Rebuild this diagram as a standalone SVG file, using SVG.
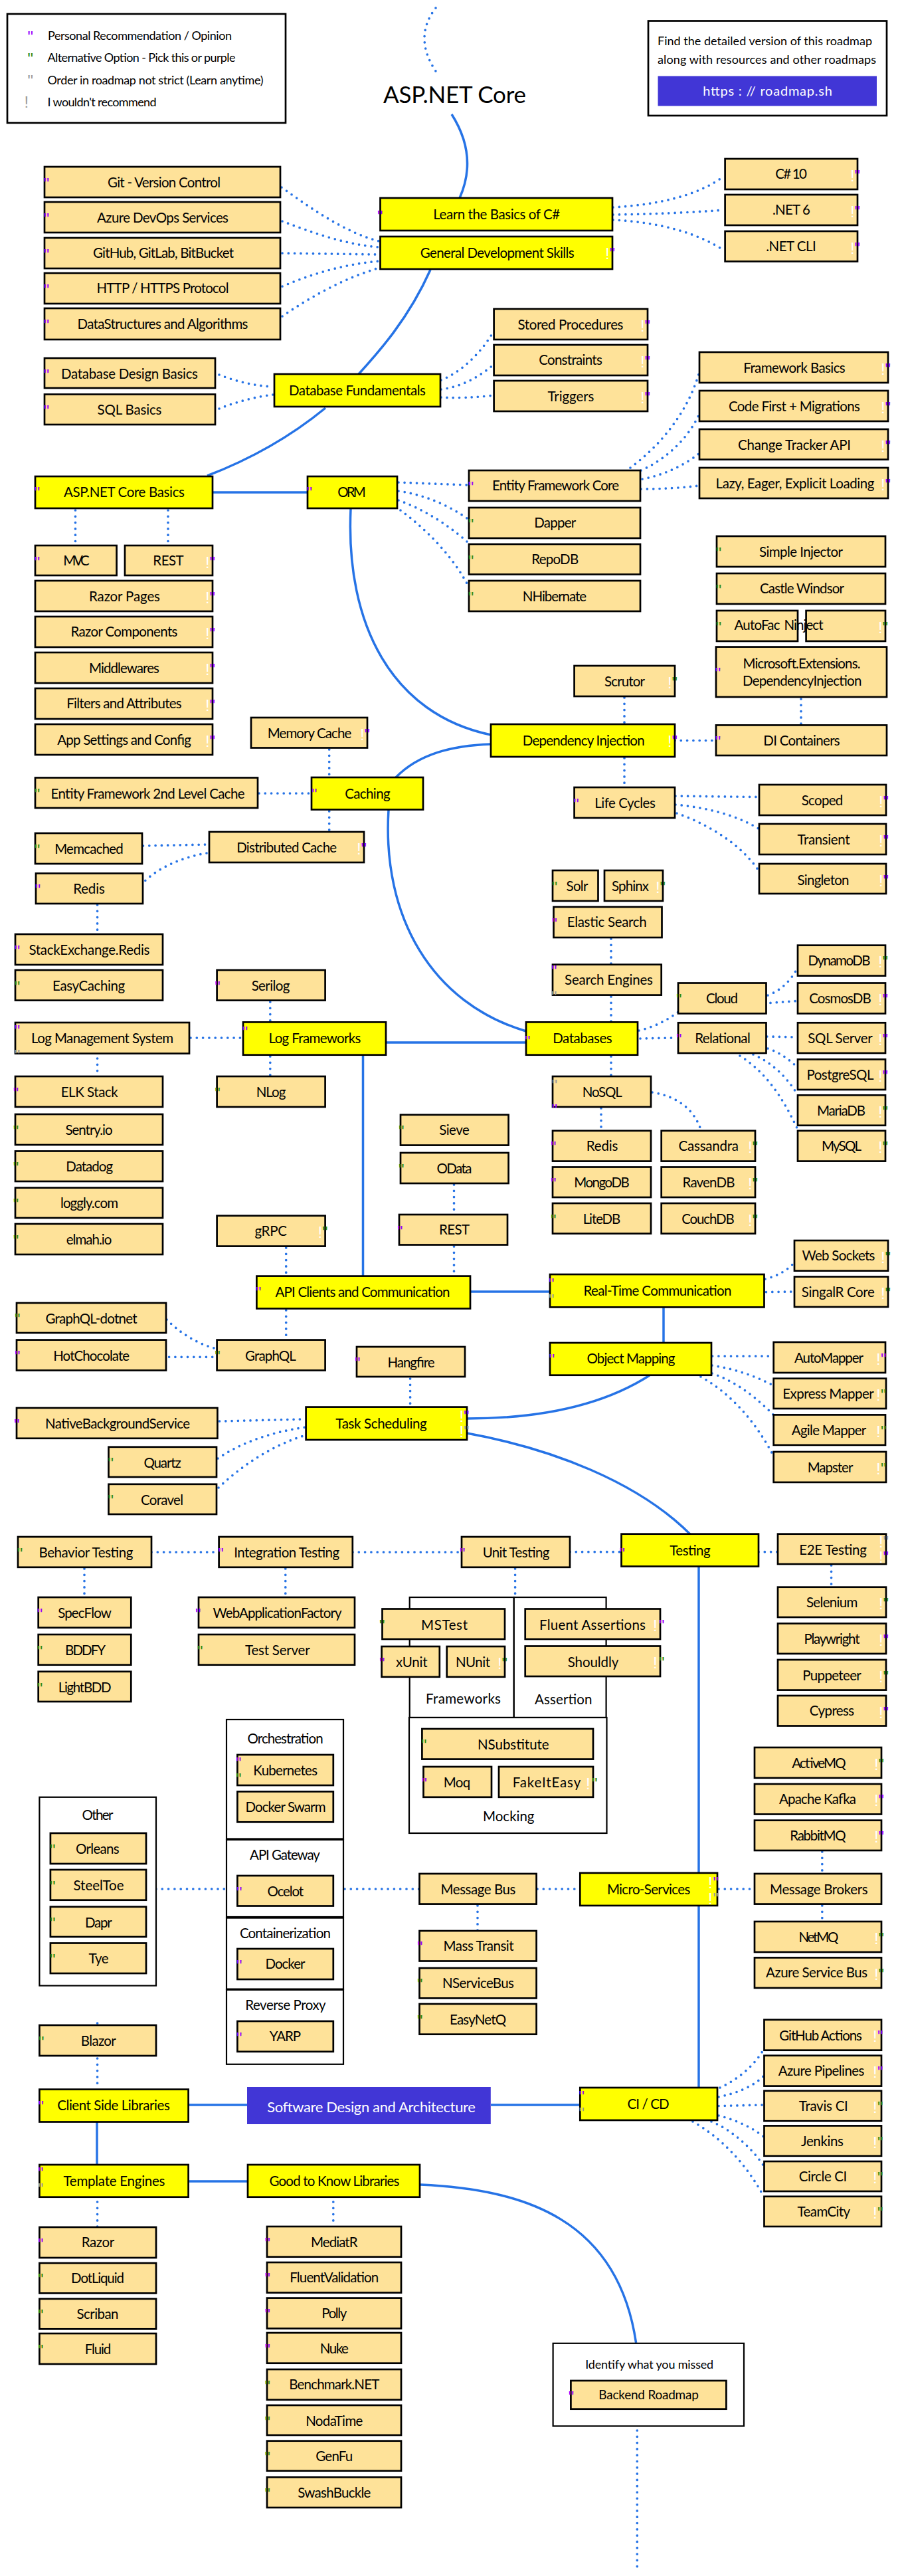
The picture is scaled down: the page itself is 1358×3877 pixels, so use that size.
<svg xmlns="http://www.w3.org/2000/svg" width="1358" height="3877" viewBox="0 0 1358 3877">
<style>
text{font-family:"Lato","Open Sans","Liberation Sans",sans-serif;fill:#000}
.t{font-size:20.500px;text-anchor:middle;dominant-baseline:central}
.l{font-size:18px;dominant-baseline:central}
.n{font-size:20px;text-anchor:middle;dominant-baseline:central;fill:#fff}
.b,.y,.c,.f{stroke:#000;stroke-width:2.700px}
.b{fill:#fee299}
.y{fill:#ff0}
.c{fill:#fff}
.f{fill:#fff;stroke-width:2.200px}
.u{fill:#4136d6}
.m{font-family:"Liberation Sans",sans-serif;font-size:24px}
.p{fill:#9900ff}.g{fill:#2f8a10}.a{fill:#9a9a9a}.w{fill:#fff}
.s path{fill:none;stroke:#2673e6;stroke-width:3.500px}
.d path{fill:none;stroke:#2673e6;stroke-width:3.700px;stroke-linecap:round;stroke-dasharray:0 9.300}
</style>
<rect width="1358" height="3877" fill="#fff"/>
<g id="connectors">
<g class="s">
<path d="M680 172Q720 235 692 298"/>
<path d="M648 406C615 480 570 530 540 563"/>
<path d="M490 614C440 655 380 690 312 716"/>
<path d="M320 741H463"/>
<path d="M528 766C520 940 590 1075 739 1106"/>
<path d="M739 1120C680 1122 630 1135 596 1170"/>
<path d="M585 1219C575 1380 650 1510 792 1552"/>
<path d="M581 1569H792"/>
<path d="M546.500 1588V1920"/>
<path d="M708 1944H828"/>
<path d="M999 1967V2021"/>
<path d="M978 2070C900 2120 800 2135 703 2135"/>
<path d="M703 2157C830 2180 960 2230 1039 2309"/>
<path d="M1052 2358V2819"/>
<path d="M1052 2868V3142"/>
<path d="M739 3168H873"/>
<path d="M284 3168H372"/>
<path d="M146 3193.500V3258"/>
<path d="M284 3283H373"/>
<path d="M633 3288C790 3295 930 3340 957.600 3526"/>
</g>
<g class="d">
<path d="M656 12Q622 56 656 107"/>
<path d="M424 282C470 315 520 350 571 363"/>
<path d="M425 333C470 350 520 368 571 372"/>
<path d="M425 381L571 383"/>
<path d="M425 431C470 412 520 397 571 393"/>
<path d="M425 476C470 445 520 418 571 403"/>
<path d="M923 312C990 308 1050 295 1090 265"/>
<path d="M923 323Q1010 322 1090 316"/>
<path d="M923 331C990 334 1050 350 1090 377"/>
<path d="M330 564C355 574 385 581 411 582"/>
<path d="M330 615C355 605 385 597 411 594"/>
<path d="M664 572C695 560 725 530 743 499"/>
<path d="M664 586C695 582 720 568 743 549"/>
<path d="M664 598Q700 600 743 595"/>
<path d="M600 726Q650 728 706 730"/>
<path d="M600 739C640 745 675 760 706 782"/>
<path d="M600 753C635 765 675 790 703 815"/>
<path d="M603 768C640 795 680 835 704 880"/>
<path d="M949 704C995 670 1035 620 1052 563"/>
<path d="M965 708C1005 690 1035 660 1052 625"/>
<path d="M967 721C1000 715 1030 700 1052 683"/>
<path d="M965 736Q1010 736 1052 731"/>
<path d="M113.500 768V821"/>
<path d="M253 768V821"/>
<path d="M1206 1052V1091"/>
<path d="M940 1050V1090"/>
<path d="M1016 1114.500H1078"/>
<path d="M940 1141V1185"/>
<path d="M1017 1198L1142 1199.500"/>
<path d="M1017 1211C1060 1215 1105 1225 1142 1247"/>
<path d="M1019 1224C1065 1240 1115 1270 1142 1310"/>
<path d="M495.700 1128V1170"/>
<path d="M390 1194H469"/>
<path d="M495.700 1221V1252"/>
<path d="M215.500 1273L311 1271"/>
<path d="M311 1284C275 1290 240 1305 218 1326"/>
<path d="M146.600 1362V1406"/>
<path d="M406.800 1508V1538"/>
<path d="M287 1562H366"/>
<path d="M146.600 1593V1620"/>
<path d="M406.800 1590V1620"/>
<path d="M430.700 1878V1920"/>
<path d="M430.700 1972V2016"/>
<path d="M251 1986C270 2005 295 2022 326 2030"/>
<path d="M254.600 2042.300H325"/>
<path d="M683.500 1783V1828"/>
<path d="M683.500 1876V1920"/>
<path d="M920 1413V1451"/>
<path d="M920 1500V1538"/>
<path d="M920 1590V1620"/>
<path d="M962 1551Q995 1543 1021 1523"/>
<path d="M964 1563L1013 1562"/>
<path d="M1156 1498Q1185 1487 1201 1456"/>
<path d="M1160 1509.400L1199 1506.500"/>
<path d="M1154.800 1560L1194.600 1560.800"/>
<path d="M1156 1578Q1180 1586 1201 1607"/>
<path d="M1134 1587Q1175 1605 1201 1648"/>
<path d="M1114 1589C1155 1615 1180 1655 1201 1700"/>
<path d="M905 1668V1701"/>
<path d="M982 1644C1020 1650 1045 1670 1055 1700"/>
<path d="M1152 1925Q1180 1918 1196 1900"/>
<path d="M1153.500 1944.600L1194.600 1944"/>
<path d="M617.600 2075V2117"/>
<path d="M1072.600 2041H1163.400"/>
<path d="M1072 2055C1105 2060 1135 2070 1164 2085"/>
<path d="M1072 2067C1110 2080 1140 2105 1164 2129"/>
<path d="M1055 2072C1105 2100 1140 2145 1164 2190"/>
<path d="M330.500 2139L454.500 2136"/>
<path d="M328 2195C365 2170 410 2155 460 2148"/>
<path d="M329 2239C365 2205 410 2175 460 2160"/>
<path d="M228 2336H330"/>
<path d="M531 2336H695"/>
<path d="M858 2335.700H935.500"/>
<path d="M1142 2335.700H1171"/>
<path d="M127 2361V2404"/>
<path d="M429.800 2361V2404"/>
<path d="M775.600 2361V2404"/>
<path d="M1251.600 2356V2388"/>
<path d="M235 2843H341"/>
<path d="M519 2843H631"/>
<path d="M809 2843H873"/>
<path d="M1082 2843H1136"/>
<path d="M719 2868V2906"/>
<path d="M1237.800 2787V2820"/>
<path d="M1237.800 2868V2892"/>
<path d="M1084 3142C1110 3130 1135 3110 1150 3084"/>
<path d="M1082 3156C1110 3150 1135 3140 1150 3124"/>
<path d="M1082 3169.500L1149 3168"/>
<path d="M1082 3184C1105 3190 1130 3200 1150 3216"/>
<path d="M1071 3193C1100 3205 1130 3230 1150 3260"/>
<path d="M1043 3193C1090 3220 1125 3260 1150 3306"/>
<path d="M146.600 3045V3046"/>
<path d="M146.600 3098V3144"/>
<path d="M146.600 3314V3352"/>
<path d="M501.800 3314V3351"/>
<path d="M959.300 3658V3866"/>
</g>
</g>

<g id="legend"><rect class="c" x="11" y="21" width="419" height="164"/>
<text class="m p" x="41.500" y="63.500">"</text><text class="l" x="72" y="53" textLength="277">Personal Recommendation / Opinion</text>
<text class="m g" x="41.500" y="96.500">"</text><text class="l" x="71.500" y="86" textLength="283">Alternative Option - Pick this or purple</text>
<text class="m a" x="41.500" y="129.500">"</text><text class="l" x="71.500" y="120" textLength="325">Order in roadmap not strict (Learn anytime)</text>
<text class="m a" x="36.600" y="161.500">!</text><text class="l" x="71.500" y="153" textLength="164">I wouldn't recommend</text></g>
<g id="title"><text class="t" style="font-size:35px" x="684.500" y="141" textLength="215">ASP.NET Core</text></g>
<g id="info"><rect class="c" x="976" y="31.500" width="359" height="142.500"/>
<text class="l" x="990" y="60.600" textLength="323">Find the detailed version of this roadmap</text>
<text class="l" x="990" y="89" textLength="329">along with resources and other roadmaps</text>
<rect class="u" x="990.500" y="114.500" width="329.500" height="45"/>
<text class="n" x="1155.600" y="135.500" textLength="194.600">https : // roadmap.sh</text></g>

<g id="containers">
<g id="box-frameworks"><rect class="f" x="616.700" y="2404" width="157" height="181"/><text class="t" x="697.500" y="2556" textLength="113">Frameworks</text></g>
<g id="box-assertion"><rect class="f" x="773.800" y="2404" width="138.800" height="181"/><text class="t" x="848.200" y="2557" textLength="86.500">Assertion</text></g>
<g id="box-mocking"><rect class="f" x="616" y="2585" width="297.500" height="174"/><text class="t" x="765.800" y="2733" textLength="77.400">Mocking</text></g>
<g id="box-orchestration"><rect class="f" x="341" y="2588" width="176" height="179.500"/><text class="t" x="429.600" y="2615.600" textLength="114">Orchestration</text></g>
<g id="box-gateway"><rect class="f" x="341" y="2769" width="176" height="116"/><text class="t" x="429" y="2791" textLength="105.800">API Gateway</text></g>
<g id="box-container"><rect class="f" x="341" y="2886.600" width="176" height="107"/><text class="t" x="429.400" y="2908.500" textLength="137">Containerization</text></g>
<g id="box-proxy"><rect class="f" x="341" y="2994.800" width="176" height="112"/><text class="t" x="430" y="3017" textLength="121.400">Reverse Proxy</text></g>
<g id="box-other"><rect class="f" x="59.400" y="2704.800" width="175.600" height="283.700"/><text class="t" x="147" y="2730.500" textLength="47">Other</text></g>
<g id="box-missed"><rect class="f" x="832.600" y="3526.800" width="287.400" height="124.600"/><text class="t" style="font-size:18px" x="977.700" y="3558.400" textLength="193">Identify what you missed</text></g>
</g>

<g id="nodes">
<g id="git"><rect class="b" x="67" y="251" width="355" height="46"/><text class="t" x="247" y="274" textLength="170">Git - Version Control</text><text class="m p" x="65.700" y="284.500">"</text></g>
<g id="azure-devops"><rect class="b" x="67" y="304" width="355" height="46"/><text class="t" x="245" y="327" textLength="198">Azure DevOps Services</text><text class="m p" x="65.700" y="337.500">"</text></g>
<g id="github"><rect class="b" x="67" y="358" width="355" height="46"/><text class="t" x="246" y="380" textLength="212">GitHub, GitLab, BitBucket</text><text class="m p" x="65.700" y="391.500">"</text></g>
<g id="http"><rect class="b" x="67" y="411" width="355" height="46"/><text class="t" x="245" y="433" textLength="199">HTTP / HTTPS Protocol</text><text class="m p" x="65.700" y="444.500">"</text></g>
<g id="ds"><rect class="b" x="67" y="464" width="355" height="47"/><text class="t" x="245" y="487" textLength="257">DataStructures and Algorithms</text><text class="m p" x="65.700" y="497.500">"</text></g>
<g id="db-design"><rect class="b" x="67" y="539" width="257" height="45"/><text class="t" x="195" y="561.500" textLength="206">Database Design Basics</text><text class="m p" x="65.700" y="572.500">"</text></g>
<g id="sql-basics"><rect class="b" x="67" y="593.500" width="257" height="45.500"/><text class="t" x="195" y="616" textLength="97">SQL Basics</text><text class="m p" x="65.700" y="627">"</text></g>
<g id="db-fund"><rect class="y" x="413" y="563" width="250" height="49"/><text class="t" x="538" y="587" textLength="206">Database Fundamentals</text></g>
<g id="learn"><rect class="y" x="572.500" y="298" width="349.500" height="49"/><text class="t" x="747.700" y="322" textLength="191">Learn the Basics of C#</text><text class="m p" x="568" y="333.500">"</text></g>
<g id="general"><rect class="y" x="572.500" y="356" width="349.500" height="49"/><text class="t" x="748.700" y="380" textLength="232">General Development Skills</text><text class="m w" x="911" y="389.500">!</text><text class="m p" x="917.500" y="389.500">"</text></g>
<g id="csharp"><rect class="b" x="1091.600" y="239" width="199.400" height="46"/><text class="t" x="1191" y="261" textLength="47.600">C# 10</text><text class="m w" x="1280" y="272.500">!</text><text class="m p" x="1286.500" y="272.500">"</text></g>
<g id="net6"><rect class="b" x="1091.600" y="293" width="199.400" height="46"/><text class="t" x="1191.500" y="315" textLength="57">.NET 6</text><text class="m w" x="1280" y="326.500">!</text><text class="m p" x="1286.500" y="326.500">"</text></g>
<g id="netcli"><rect class="b" x="1091.600" y="348" width="199.400" height="45.500"/><text class="t" x="1191" y="370" textLength="75.700">.NET CLI</text><text class="m w" x="1280" y="381.500">!</text><text class="m p" x="1286.500" y="381.500">"</text></g>
<g id="stored"><rect class="b" x="743.600" y="465" width="231.400" height="46"/><text class="t" x="859" y="488" textLength="159">Stored Procedures</text><text class="m w" x="964" y="498.500">!</text><text class="m p" x="970.500" y="498.500">"</text></g>
<g id="constraints"><rect class="b" x="743.600" y="519" width="231.400" height="46"/><text class="t" x="859" y="541" textLength="95.600">Constraints</text><text class="m w" x="964" y="552.500">!</text><text class="m p" x="970.500" y="552.500">"</text></g>
<g id="triggers"><rect class="b" x="743.600" y="573" width="231.400" height="46"/><text class="t" x="859.500" y="595.600" textLength="70">Triggers</text><text class="m w" x="964" y="606.500">!</text><text class="m p" x="970.500" y="606.500">"</text></g>
<g id="ef-basics"><rect class="b" x="1053" y="530" width="284" height="46"/><text class="t" x="1196" y="552.600" textLength="153.500">Framework Basics</text><text class="m w" x="1326" y="563.500">!</text><text class="m p" x="1332.500" y="563.500">"</text></g>
<g id="code-first"><rect class="b" x="1053" y="588" width="284" height="46"/><text class="t" x="1196" y="611" textLength="198">Code First + Migrations</text><text class="m w" x="1326" y="621.500">!</text><text class="m p" x="1332.500" y="621.500">"</text></g>
<g id="change-tracker"><rect class="b" x="1053" y="646" width="284" height="45.600"/><text class="t" x="1196" y="669" textLength="170">Change Tracker API</text><text class="m w" x="1326" y="679.500">!</text><text class="m p" x="1332.500" y="679.500">"</text></g>
<g id="lazy"><rect class="b" x="1053" y="704" width="284" height="46"/><text class="t" x="1197" y="726.500" textLength="239">Lazy, Eager, Explicit Loading</text><text class="m w" x="1326" y="737.500">!</text><text class="m p" x="1332.500" y="737.500">"</text></g>
<g id="aspnet-basics"><rect class="y" x="53" y="717" width="267" height="48"/><text class="t" x="187" y="740" textLength="182">ASP.NET Core Basics</text><text class="m p" x="51.700" y="749.500">"</text></g>
<g id="orm"><rect class="y" x="463" y="717" width="135" height="48"/><text class="t" x="529.500" y="740" textLength="42.500">ORM</text><text class="m p" x="461.700" y="749.500">"</text></g>
<g id="mvc"><rect class="b" x="53" y="821" width="122.600" height="45"/><text class="t" x="115" y="843" textLength="39.500">MVC</text><text class="m p" x="51.700" y="854.500">"</text></g>
<g id="rest"><rect class="b" x="188" y="821" width="132" height="45"/><text class="t" x="253.500" y="843" textLength="46.400">REST</text><text class="m w" x="309" y="854.500">!</text><text class="m p" x="315.500" y="854.500">"</text></g>
<g id="razor-pages"><rect class="b" x="53" y="874" width="267" height="46"/><text class="t" x="187.500" y="897" textLength="107">Razor Pages</text><text class="m w" x="309" y="907.500">!</text><text class="m p" x="315.500" y="907.500">"</text></g>
<g id="razor-components"><rect class="b" x="53" y="928" width="267" height="46"/><text class="t" x="187" y="950" textLength="161">Razor Components</text><text class="m w" x="309" y="961.500">!</text><text class="m p" x="315.500" y="961.500">"</text></g>
<g id="middlewares"><rect class="b" x="53" y="982" width="267" height="46"/><text class="t" x="187" y="1005" textLength="106">Middlewares</text><text class="m w" x="309" y="1015.500">!</text><text class="m p" x="315.500" y="1015.500">"</text></g>
<g id="filters"><rect class="b" x="53" y="1036" width="267" height="46"/><text class="t" x="187" y="1058" textLength="173.500">Filters and Attributes</text><text class="m w" x="309" y="1069.500">!</text><text class="m p" x="315.500" y="1069.500">"</text></g>
<g id="app-settings"><rect class="b" x="53" y="1090" width="267" height="46"/><text class="t" x="187" y="1113" textLength="201.700">App Settings and Config</text><text class="m w" x="309" y="1123.500">!</text><text class="m p" x="315.500" y="1123.500">"</text></g>
<g id="memory-cache"><rect class="b" x="378" y="1080" width="175" height="45.500"/><text class="t" x="466" y="1103" textLength="126.600">Memory Cache</text><text class="m w" x="542" y="1113.500">!</text><text class="m p" x="548.500" y="1113.500">"</text></g>
<g id="caching"><rect class="y" x="469" y="1170" width="168" height="48.500"/><text class="t" x="553.400" y="1194" textLength="68.500">Caching</text><text class="m p" x="469" y="1203.500">"</text></g>
<g id="ef-cache"><rect class="b" x="53" y="1170.500" width="335" height="45.500"/><text class="t" x="222.500" y="1194" textLength="292">Entity Framework 2nd Level Cache</text><text class="m g" x="51.700" y="1204">"</text></g>
<g id="memcached"><rect class="b" x="53" y="1254" width="161" height="46"/><text class="t" x="134" y="1277" textLength="103.600">Memcached</text><text class="m g" x="51.700" y="1287.500">"</text></g>
<g id="distributed"><rect class="b" x="315" y="1252" width="233" height="46"/><text class="t" x="431.700" y="1275" textLength="151">Distributed Cache</text><text class="m w" x="537" y="1285.500">!</text><text class="m p" x="543.500" y="1285.500">"</text></g>
<g id="redis-cache"><rect class="b" x="54" y="1314.500" width="161" height="45.500"/><text class="t" x="134" y="1337" textLength="47.700">Redis</text><text class="m p" x="52.700" y="1348">"</text></g>
<g id="ef-core"><rect class="b" x="706" y="708" width="258" height="46"/><text class="t" x="836.500" y="730" textLength="191">Entity Framework Core</text><text class="m p" x="704.700" y="741.500">"</text></g>
<g id="dapper"><rect class="b" x="706" y="764" width="258" height="46"/><text class="t" x="835.700" y="786" textLength="63">Dapper</text><text class="m g" x="704.700" y="797.500">"</text></g>
<g id="repodb"><rect class="b" x="706" y="819" width="258" height="45.500"/><text class="t" x="835.700" y="841" textLength="71">RepoDB</text><text class="m g" x="704.700" y="852.500">"</text></g>
<g id="nhibernate"><rect class="b" x="706" y="874" width="258" height="46"/><text class="t" x="835" y="897" textLength="96.400">NHibernate</text><text class="m g" x="704.700" y="907.500">"</text></g>
<g id="simple-injector"><rect class="b" x="1079" y="807" width="254" height="46"/><text class="t" x="1206" y="830" textLength="126">Simple Injector</text><text class="m g" x="1077.700" y="840.500">"</text></g>
<g id="castle"><rect class="b" x="1079" y="863" width="254" height="46"/><text class="t" x="1207.500" y="885" textLength="127">Castle Windsor</text><text class="m g" x="1077.700" y="896.500">"</text></g>
<g id="autofac"><rect class="b" x="1079" y="919" width="122" height="46"/><text class="t" x="1140" y="940" textLength="69">AutoFac</text><text class="m g" x="1077.700" y="952.500">"</text></g>
<g id="ninject"><rect class="b" x="1213.600" y="919" width="119.400" height="46"/><text class="t" x="1210" y="940" textLength="59">Ninject</text><text class="m w" x="1322" y="952.500">!</text><text class="m g" x="1328.500" y="952.500">"</text></g>
<g id="ms-di"><rect class="b" x="1078" y="973.600" width="257" height="75.400"/><text class="t" x="1207" y="997.600" textLength="177">Microsoft.Extensions.</text><text class="t" x="1207.700" y="1024" textLength="179.400">DependencyInjection</text><text class="m p" x="1076.700" y="1021.500">"</text></g>
<g id="scrutor"><rect class="b" x="864.600" y="1002" width="151.400" height="46"/><text class="t" x="940.500" y="1025" textLength="61">Scrutor</text><text class="m w" x="1005" y="1035.500">!</text><text class="m g" x="1011.500" y="1035.500">"</text></g>
<g id="dep-inj"><rect class="y" x="739" y="1090" width="277" height="49"/><text class="t" x="878.700" y="1114" textLength="184">Dependency Injection</text><text class="m w" x="1005" y="1123.500">!</text><text class="m p" x="1011.500" y="1123.500">"</text></g>
<g id="di-containers"><rect class="b" x="1078" y="1091.400" width="257" height="45.600"/><text class="t" x="1207" y="1114" textLength="115.500">DI Containers</text><text class="m p" x="1076.700" y="1124.500">"</text></g>
<g id="life-cycles"><rect class="b" x="864.600" y="1185" width="151.400" height="46"/><text class="t" x="941" y="1208.400" textLength="91.700">Life Cycles</text><text class="m p" x="863.300" y="1218.500">"</text></g>
<g id="scoped"><rect class="b" x="1143" y="1181" width="191" height="46"/><text class="t" x="1238" y="1204" textLength="62.700">Scoped</text><text class="m w" x="1323" y="1214.500">!</text><text class="m p" x="1329.500" y="1214.500">"</text></g>
<g id="transient"><rect class="b" x="1143" y="1240" width="191" height="46"/><text class="t" x="1240" y="1263" textLength="79">Transient</text><text class="m w" x="1323" y="1273.500">!</text><text class="m p" x="1329.500" y="1273.500">"</text></g>
<g id="singleton"><rect class="b" x="1143" y="1300" width="191" height="45"/><text class="t" x="1239.500" y="1324" textLength="78">Singleton</text><text class="m w" x="1323" y="1333.500">!</text><text class="m p" x="1329.500" y="1333.500">"</text></g>
<g id="stackexchange"><rect class="b" x="23" y="1406" width="222" height="46"/><text class="t" x="134.400" y="1429" textLength="182">StackExchange.Redis</text><text class="m p" x="21.700" y="1439.500">"</text></g>
<g id="easycaching"><rect class="b" x="23" y="1460" width="222" height="45.600"/><text class="t" x="133.600" y="1483" textLength="109">EasyCaching</text><text class="m g" x="21.700" y="1493.500">"</text></g>
<g id="serilog"><rect class="b" x="326.600" y="1460" width="163" height="45.600"/><text class="t" x="407.500" y="1483" textLength="57.700">Serilog</text><text class="m p" x="323.300" y="1493.500">"</text></g>
<g id="log-mgmt"><rect class="b" x="23" y="1539" width="262" height="46.600"/><text class="t" x="154" y="1562.400" textLength="214">Log Management System</text><text class="m p" x="21.700" y="1560">"</text><text class="m a" x="21.700" y="1597">"</text></g>
<g id="log-fw"><rect class="y" x="366" y="1538.400" width="215" height="49.300"/><text class="t" x="474" y="1562.400" textLength="139">Log Frameworks</text><text class="m p" x="364.700" y="1562">"</text></g>
<g id="elk"><rect class="b" x="23" y="1620" width="222" height="46"/><text class="t" x="134.700" y="1643" textLength="86">ELK Stack</text><text class="m p" x="19.700" y="1653.500">"</text></g>
<g id="nlog"><rect class="b" x="326.600" y="1620" width="163" height="46"/><text class="t" x="408" y="1643" textLength="44.700">NLog</text><text class="m g" x="323.300" y="1653.500">"</text></g>
<g id="sentry"><rect class="b" x="23" y="1677" width="222" height="46"/><text class="t" x="134" y="1700" textLength="71">Sentry.io</text><text class="m g" x="19.700" y="1710.500">"</text></g>
<g id="datadog"><rect class="b" x="23" y="1732.500" width="222" height="45.500"/><text class="t" x="134.700" y="1755" textLength="70.700">Datadog</text><text class="m g" x="19.700" y="1766">"</text></g>
<g id="loggly"><rect class="b" x="23" y="1787.600" width="222" height="45.400"/><text class="t" x="134.500" y="1810" textLength="87">loggly.com</text><text class="m g" x="19.700" y="1821">"</text></g>
<g id="elmah"><rect class="b" x="23" y="1842" width="222" height="46"/><text class="t" x="134" y="1864.600" textLength="68.500">elmah.io</text><text class="m g" x="19.700" y="1875.500">"</text></g>
<g id="grpc"><rect class="b" x="326.600" y="1829.700" width="163" height="45.900"/><text class="t" x="407.700" y="1852" textLength="48.600">gRPC</text><text class="m w" x="478.500" y="1863">!</text><text class="m g" x="485" y="1863">"</text></g>
<g id="api-clients"><rect class="y" x="386.400" y="1920.600" width="321.600" height="48.900"/><text class="t" x="546" y="1944" textLength="263">API Clients and Communication</text><text class="m p" x="385.100" y="1954">"</text></g>
<g id="sieve"><rect class="b" x="603" y="1677.800" width="162.600" height="45.800"/><text class="t" x="684" y="1700" textLength="45.600">Sieve</text><text class="m g" x="600" y="1711">"</text></g>
<g id="odata"><rect class="b" x="603" y="1735" width="162.600" height="46"/><text class="t" x="684" y="1757.700" textLength="53">OData</text><text class="m g" x="600" y="1768.500">"</text></g>
<g id="rest2"><rect class="b" x="601" y="1828" width="163" height="45.500"/><text class="t" x="684" y="1850" textLength="46">REST</text><text class="m p" x="598" y="1861.500">"</text></g>
<g id="solr"><rect class="b" x="832" y="1310" width="68.500" height="46"/><text class="t" x="869" y="1332.600" textLength="33">Solr</text><text class="m g" x="830.700" y="1343.500">"</text></g>
<g id="sphinx"><rect class="b" x="910" y="1310" width="88" height="46"/><text class="t" x="949" y="1332.600" textLength="56">Sphinx</text><text class="m w" x="987" y="1343.500">!</text><text class="m g" x="993.500" y="1343.500">"</text></g>
<g id="elastic"><rect class="b" x="833.500" y="1365" width="163" height="46"/><text class="t" x="913.700" y="1387.300" textLength="120">Elastic Search</text><text class="m p" x="830.500" y="1398.500">"</text></g>
<g id="search"><rect class="b" x="832" y="1451.700" width="163.700" height="45.900"/><text class="t" x="916.500" y="1474" textLength="133">Search Engines</text><text class="m p" x="830" y="1470">"</text><text class="m a" x="830" y="1509">"</text></g>
<g id="databases"><rect class="y" x="792" y="1538.400" width="168" height="49.300"/><text class="t" x="877" y="1562.400" textLength="89.500">Databases</text><text class="m p" x="790" y="1576">"</text></g>
<g id="cloud"><rect class="b" x="1021" y="1479.500" width="132.500" height="45.900"/><text class="t" x="1087" y="1502" textLength="48">Cloud</text><text class="m g" x="1018" y="1513">"</text></g>
<g id="relational"><rect class="b" x="1021" y="1539.300" width="132.500" height="45.700"/><text class="t" x="1088" y="1562.400" textLength="83.500">Relational</text><text class="m p" x="1018" y="1573">"</text></g>
<g id="dynamodb"><rect class="b" x="1201" y="1422.700" width="132" height="45.900"/><text class="t" x="1263.500" y="1445.400" textLength="94">DynamoDB</text><text class="m w" x="1322" y="1456">!</text><text class="m g" x="1328.500" y="1456">"</text></g>
<g id="cosmosdb"><rect class="b" x="1201" y="1479.500" width="132" height="45.900"/><text class="t" x="1265" y="1502" textLength="93.400">CosmosDB</text><text class="m w" x="1322" y="1513">!</text><text class="m p" x="1328.500" y="1513">"</text></g>
<g id="sql-server"><rect class="b" x="1201" y="1539.300" width="132" height="45.700"/><text class="t" x="1265" y="1562.400" textLength="97.300">SQL Server</text><text class="m w" x="1322" y="1573">!</text><text class="m p" x="1328.500" y="1573">"</text></g>
<g id="postgresql"><rect class="b" x="1201" y="1594.400" width="132" height="45.600"/><text class="t" x="1265" y="1616.700" textLength="101">PostgreSQL</text><text class="m w" x="1322" y="1628">!</text><text class="m p" x="1328.500" y="1628">"</text></g>
<g id="mariadb"><rect class="b" x="1201" y="1648.300" width="132" height="45.500"/><text class="t" x="1266.500" y="1670.600" textLength="73">MariaDB</text><text class="m w" x="1322" y="1682">!</text><text class="m g" x="1328.500" y="1682">"</text></g>
<g id="mysql"><rect class="b" x="1201" y="1701.800" width="132" height="45.800"/><text class="t" x="1267" y="1724" textLength="60">MySQL</text><text class="m w" x="1322" y="1735">!</text><text class="m g" x="1328.500" y="1735">"</text></g>
<g id="nosql"><rect class="b" x="832" y="1620" width="148" height="46"/><text class="t" x="906.800" y="1643" textLength="60">NoSQL</text><text class="m a" x="830.700" y="1641.500">"</text><text class="m p" x="830.700" y="1678.500">"</text></g>
<g id="redis-db"><rect class="b" x="832" y="1701.800" width="148" height="45.800"/><text class="t" x="906.600" y="1724" textLength="47.600">Redis</text><text class="m p" x="829" y="1735">"</text></g>
<g id="cassandra"><rect class="b" x="995.700" y="1701.800" width="141.300" height="45.800"/><text class="t" x="1066.800" y="1724" textLength="90.400">Cassandra</text><text class="m w" x="1126" y="1735">!</text><text class="m g" x="1132.500" y="1735">"</text></g>
<g id="mongodb"><rect class="b" x="832" y="1756.500" width="148" height="45.500"/><text class="t" x="906" y="1779" textLength="83.500">MongoDB</text><text class="m p" x="829" y="1790">"</text></g>
<g id="ravendb"><rect class="b" x="995.700" y="1756.500" width="141.300" height="45.500"/><text class="t" x="1067" y="1779" textLength="79">RavenDB</text><text class="m w" x="1126" y="1790">!</text><text class="m g" x="1132.500" y="1790">"</text></g>
<g id="litedb"><rect class="b" x="832" y="1811" width="148" height="45.600"/><text class="t" x="906" y="1833.500" textLength="56.600">LiteDB</text><text class="m g" x="829" y="1844.500">"</text></g>
<g id="couchdb"><rect class="b" x="995.700" y="1811" width="141.300" height="45.600"/><text class="t" x="1066" y="1833.500" textLength="79.600">CouchDB</text><text class="m w" x="1126" y="1844.500">!</text><text class="m g" x="1132.500" y="1844.500">"</text></g>
<g id="websockets"><rect class="b" x="1196" y="1867" width="141" height="45.600"/><text class="t" x="1262.500" y="1889" textLength="110">Web Sockets</text><text class="m w" x="1326" y="1900.500">!</text><text class="m g" x="1332.500" y="1900.500">"</text></g>
<g id="signalr"><rect class="b" x="1196" y="1921.500" width="141" height="45.500"/><text class="t" x="1261.800" y="1944" textLength="110">SingalR Core</text><text class="m w" x="1326" y="1955">!</text><text class="m g" x="1332.500" y="1955">"</text></g>
<g id="realtime"><rect class="y" x="828" y="1918" width="322.500" height="49.400"/><text class="t" x="990" y="1942" textLength="223">Real-Time Communication</text><text class="m p" x="826" y="1940.500">"</text><text class="m a" x="826" y="1964.500">"</text></g>
<g id="graphql-dotnet"><rect class="b" x="25" y="1961" width="225" height="45"/><text class="t" x="137.500" y="1984" textLength="138">GraphQL-dotnet</text><text class="m g" x="22" y="1994">"</text></g>
<g id="hotchocolate"><rect class="b" x="25" y="2016.600" width="225" height="45.900"/><text class="t" x="137.700" y="2039.800" textLength="115">HotChocolate</text><text class="m p" x="22" y="2050">"</text></g>
<g id="graphql"><rect class="b" x="326.600" y="2016.600" width="163" height="45.900"/><text class="t" x="407.500" y="2039.800" textLength="76.800">GraphQL</text><text class="m g" x="323.300" y="2050">"</text></g>
<g id="hangfire"><rect class="b" x="537" y="2027" width="163" height="45"/><text class="t" x="619" y="2050" textLength="71">Hangfire</text><text class="m p" x="534" y="2060">"</text></g>
<g id="task"><rect class="y" x="460.600" y="2117.600" width="242.400" height="49.400"/><text class="t" x="574" y="2142" textLength="137.500">Task Scheduling</text><text class="m w" x="691.500" y="2139.500">!</text><text class="m p" x="698" y="2139.500">"</text><text class="m w" x="691.500" y="2162.500">!</text><text class="m a" x="698" y="2162.500">"</text></g>
<g id="native-bg"><rect class="b" x="25" y="2119" width="302.400" height="45.800"/><text class="t" x="177" y="2141.600" textLength="218">NativeBackgroundService</text><text class="m p" x="21" y="2152.500">"</text></g>
<g id="quartz"><rect class="b" x="163.500" y="2177.800" width="162.500" height="45.200"/><text class="t" x="244.600" y="2200.600" textLength="56.400">Quartz</text><text class="m g" x="162.500" y="2211">"</text></g>
<g id="coravel"><rect class="b" x="163.500" y="2233.800" width="162.500" height="45.200"/><text class="t" x="244" y="2256.500" textLength="64">Coravel</text><text class="m g" x="162.500" y="2267">"</text></g>
<g id="behavior"><rect class="b" x="27" y="2313" width="201" height="45.800"/><text class="t" x="129.500" y="2335.700" textLength="141.800">Behavior Testing</text><text class="m g" x="25.700" y="2346.500">"</text></g>
<g id="integration"><rect class="b" x="329.600" y="2313" width="201.200" height="45.800"/><text class="t" x="431.700" y="2335.700" textLength="159">Integration Testing</text><text class="m p" x="328.300" y="2346.500">"</text></g>
<g id="specflow"><rect class="b" x="57.700" y="2404" width="139.600" height="45.700"/><text class="t" x="127.500" y="2427" textLength="80.700">SpecFlow</text><text class="m p" x="55.700" y="2437.500">"</text></g>
<g id="bddfy"><rect class="b" x="57.700" y="2460" width="139.600" height="45.700"/><text class="t" x="128.600" y="2482.500" textLength="61">BDDFY</text><text class="m g" x="55.700" y="2493.500">"</text></g>
<g id="lightbdd"><rect class="b" x="57.700" y="2515.800" width="139.600" height="45.200"/><text class="t" x="127.700" y="2538.500" textLength="80">LightBDD</text><text class="m g" x="55.700" y="2549.500">"</text></g>
<g id="webapp"><rect class="b" x="299" y="2404" width="235" height="45.700"/><text class="t" x="417.600" y="2427" textLength="194">WebApplicationFactory</text><text class="m p" x="294" y="2437.500">"</text></g>
<g id="test-server"><rect class="b" x="299" y="2460" width="235" height="45.700"/><text class="t" x="417.800" y="2482.500" textLength="97.600">Test Server</text><text class="m g" x="297" y="2493.500">"</text></g>
<g id="mstest"><rect class="b" x="575.500" y="2421.500" width="184.500" height="45.500"/><text class="t" x="669" y="2445" textLength="70">MSTest</text><text class="m g" x="571" y="2455">"</text></g>
<g id="xunit"><rect class="b" x="574.600" y="2478" width="87.200" height="45.800"/><text class="t" x="619.800" y="2501" textLength="47.700">xUnit</text><text class="m p" x="571" y="2511.500">"</text></g>
<g id="nunit"><rect class="b" x="672.700" y="2478" width="87.300" height="45.800"/><text class="t" x="712" y="2501" textLength="52">NUnit</text><text class="m w" x="749" y="2511.500">!</text><text class="m g" x="755.500" y="2511.500">"</text></g>
<g id="fluent"><rect class="b" x="790.700" y="2421.500" width="203.300" height="45.500"/><text class="t" x="892" y="2445" textLength="160">Fluent Assertions</text><text class="m w" x="983" y="2455">!</text><text class="m p" x="992" y="2455">"</text></g>
<g id="shouldly"><rect class="b" x="790.700" y="2477.500" width="203.300" height="45.500"/><text class="t" x="893" y="2500.700" textLength="76.500">Shouldly</text><text class="m w" x="983" y="2511">!</text><text class="m g" x="992" y="2511">"</text></g>
<g id="nsubstitute"><rect class="b" x="635.400" y="2602" width="257.600" height="45.600"/><text class="t" x="772.800" y="2624.800" textLength="107.700">NSubstitute</text><text class="m g" x="634" y="2634.500">"</text></g>
<g id="moq"><rect class="b" x="637.500" y="2659" width="102.500" height="45.800"/><text class="t" x="688" y="2682" textLength="40.500">Moq</text><text class="m p" x="634.500" y="2692.500">"</text></g>
<g id="fakeiteasy"><rect class="b" x="751" y="2659" width="142" height="45.800"/><text class="t" x="823" y="2682" textLength="102.500">FakeItEasy</text><text class="m w" x="882" y="2692.500">!</text><text class="m g" x="891" y="2692.500">"</text></g>
<g id="object-mapping"><rect class="y" x="828" y="2021" width="243" height="48.700"/><text class="t" x="950" y="2044.400" textLength="133">Object Mapping</text><text class="m p" x="826.700" y="2054.500">"</text></g>
<g id="automapper"><rect class="b" x="1164.700" y="2020" width="168.300" height="46"/><text class="t" x="1248" y="2042.700" textLength="103.800">AutoMapper</text><text class="m w" x="1319" y="2053.500">!</text><text class="m p" x="1326" y="2053.500">"</text></g>
<g id="express"><rect class="b" x="1164.700" y="2074.700" width="169.300" height="45.300"/><text class="t" x="1247" y="2097" textLength="137.500">Express Mapper</text><text class="m w" x="1319" y="2108">!</text><text class="m g" x="1326" y="2108">"</text></g>
<g id="agile"><rect class="b" x="1164.700" y="2129.400" width="168.300" height="45.500"/><text class="t" x="1248" y="2151.700" textLength="112.400">Agile Mapper</text><text class="m w" x="1319" y="2163">!</text><text class="m g" x="1326" y="2163">"</text></g>
<g id="mapster"><rect class="b" x="1164.700" y="2185" width="169.300" height="45.900"/><text class="t" x="1250" y="2207.700" textLength="68.700">Mapster</text><text class="m w" x="1319" y="2218.500">!</text><text class="m g" x="1326" y="2218.500">"</text></g>
<g id="unit"><rect class="b" x="695" y="2313" width="163" height="45.800"/><text class="t" x="777" y="2335.700" textLength="100.700">Unit Testing</text><text class="m p" x="692" y="2346.500">"</text></g>
<g id="testing"><rect class="y" x="935.500" y="2308.700" width="206.500" height="48.800"/><text class="t" x="1039" y="2332.700" textLength="61.400">Testing</text><text class="m p" x="932.500" y="2346.500">"</text></g>
<g id="e2e"><rect class="b" x="1171" y="2308.700" width="163" height="45.300"/><text class="t" x="1254" y="2332" textLength="101.600">E2E Testing</text><text class="m w" x="1323" y="2328.500">!</text><text class="m a" x="1329.500" y="2328.500">"</text><text class="m w" x="1323" y="2351.500">!</text><text class="m p" x="1329.500" y="2351.500">"</text></g>
<g id="selenium"><rect class="b" x="1171" y="2388.700" width="163" height="45.300"/><text class="t" x="1252.700" y="2411.400" textLength="77.400">Selenium</text><text class="m w" x="1323" y="2422">!</text><text class="m g" x="1329.500" y="2422">"</text></g>
<g id="playwright"><rect class="b" x="1171" y="2443.400" width="163" height="45.500"/><text class="t" x="1252.500" y="2466" textLength="84">Playwright</text><text class="m w" x="1323" y="2477">!</text><text class="m p" x="1329.500" y="2477">"</text></g>
<g id="puppeteer"><rect class="b" x="1171" y="2498" width="163" height="45.600"/><text class="t" x="1252.500" y="2520.900" textLength="88.600">Puppeteer</text><text class="m w" x="1323" y="2531.500">!</text><text class="m g" x="1329.500" y="2531.500">"</text></g>
<g id="cypress"><rect class="b" x="1171" y="2552" width="163" height="45.500"/><text class="t" x="1252.500" y="2574.300" textLength="67.500">Cypress</text><text class="m w" x="1323" y="2585.500">!</text><text class="m p" x="1329.500" y="2585.500">"</text></g>
<g id="kubernetes"><rect class="b" x="357.400" y="2641" width="144.400" height="46"/><text class="t" x="429.700" y="2663.600" textLength="96.700">Kubernetes</text><text class="m p" x="355" y="2661.500">"</text><text class="m g" x="355" y="2685.500">"</text></g>
<g id="docker-swarm"><rect class="b" x="357.400" y="2696.400" width="144.400" height="45.900"/><text class="t" x="430" y="2719" textLength="121">Docker Swarm</text></g>
<g id="ocelot"><rect class="b" x="357.400" y="2823" width="144.400" height="45.500"/><text class="t" x="429.800" y="2846" textLength="54.600">Ocelot</text><text class="m p" x="356" y="2856.500">"</text></g>
<g id="docker"><rect class="b" x="357.400" y="2933" width="144.400" height="46"/><text class="t" x="429.500" y="2955" textLength="60">Docker</text><text class="m p" x="356" y="2966.500">"</text></g>
<g id="yarp"><rect class="b" x="357.400" y="3042" width="144.400" height="45.800"/><text class="t" x="429.500" y="3064" textLength="47.300">YARP</text><text class="m p" x="356" y="3075.500">"</text></g>
<g id="orleans"><rect class="b" x="75.900" y="2759" width="144.100" height="46"/><text class="t" x="146.800" y="2781.800" textLength="65.500">Orleans</text><text class="m g" x="75" y="2792.500">"</text></g>
<g id="steeltoe"><rect class="b" x="75.900" y="2814" width="144.100" height="45.700"/><text class="t" x="148.500" y="2836.500" textLength="76">SteelToe</text><text class="m g" x="75" y="2847.500">"</text></g>
<g id="dapr"><rect class="b" x="75.900" y="2869.800" width="144.100" height="45.200"/><text class="t" x="148.300" y="2892.500" textLength="40.800">Dapr</text><text class="m g" x="75" y="2903">"</text></g>
<g id="tye"><rect class="b" x="75.900" y="2924.500" width="144.100" height="45.500"/><text class="t" x="148.500" y="2947" textLength="30">Tye</text><text class="m g" x="75" y="2958">"</text></g>
<g id="blazor"><rect class="b" x="59.400" y="3048" width="175.600" height="46"/><text class="t" x="148.300" y="3071.400" textLength="53">Blazor</text><text class="m g" x="58" y="3082">"</text></g>
<g id="client-side"><rect class="y" x="59.400" y="3144.600" width="224.200" height="48.900"/><text class="t" x="171" y="3168" textLength="169.600">Client Side Libraries</text><text class="m p" x="57.500" y="3178.500">"</text></g>
<g id="software-design"><rect class="u" x="372" y="3141" width="366.800" height="56"/><text class="n" style="font-size:22px" x="559" y="3170" textLength="313.700">Software Design and Architecture</text></g>
<g id="message-bus"><rect class="b" x="631.500" y="2820" width="176.100" height="45.600"/><text class="t" x="720" y="2842.900" textLength="113">Message Bus</text></g>
<g id="mass-transit"><rect class="b" x="631.500" y="2906" width="176.100" height="45.500"/><text class="t" x="720.600" y="2928.300" textLength="106">Mass Transit</text><text class="m p" x="628" y="2939">"</text></g>
<g id="nservicebus"><rect class="b" x="631.500" y="2962" width="176.100" height="45.400"/><text class="t" x="720" y="2984.300" textLength="108">NServiceBus</text><text class="m g" x="628" y="2995">"</text></g>
<g id="easynetq"><rect class="b" x="631.500" y="3016" width="176.100" height="45.700"/><text class="t" x="719.600" y="3039" textLength="85">EasyNetQ</text><text class="m g" x="628" y="3050">"</text></g>
<g id="activemq"><rect class="b" x="1136" y="2630" width="191" height="45.800"/><text class="t" x="1233" y="2653" textLength="81.300">ActiveMQ</text><text class="m w" x="1316" y="2663.500">!</text><text class="m g" x="1322.500" y="2663.500">"</text></g>
<g id="kafka"><rect class="b" x="1136" y="2685" width="191" height="45.500"/><text class="t" x="1231" y="2707" textLength="116">Apache Kafka</text><text class="m w" x="1316" y="2718">!</text><text class="m p" x="1322.500" y="2718">"</text></g>
<g id="rabbitmq"><rect class="b" x="1136" y="2739.700" width="191" height="45.300"/><text class="t" x="1231.500" y="2762" textLength="84.300">RabbitMQ</text><text class="m w" x="1316" y="2773">!</text><text class="m p" x="1322.500" y="2773">"</text></g>
<g id="brokers"><rect class="b" x="1136" y="2820" width="191" height="45.600"/><text class="t" x="1232.800" y="2842.900" textLength="147.500">Message Brokers</text></g>
<g id="netmq"><rect class="b" x="1136" y="2892" width="191" height="46"/><text class="t" x="1232.400" y="2914.800" textLength="60">NetMQ</text><text class="m w" x="1316" y="2925.500">!</text><text class="m g" x="1322.500" y="2925.500">"</text></g>
<g id="azure-sb"><rect class="b" x="1136" y="2946.400" width="191" height="45.500"/><text class="t" x="1229.600" y="2968.300" textLength="153">Azure Service Bus</text><text class="m w" x="1316" y="2979.500">!</text><text class="m g" x="1322.500" y="2979.500">"</text></g>
<g id="micro"><rect class="y" x="873.300" y="2818.900" width="206.700" height="49.100"/><text class="t" x="976.600" y="2842.900" textLength="125.400">Micro-Services</text><text class="m w" x="1066" y="2841.500">!</text><text class="m p" x="1073.500" y="2841.500">"</text><text class="m w" x="1066" y="2865.500">!</text><text class="m a" x="1073.500" y="2865.500">"</text></g>
<g id="cicd"><rect class="y" x="873.300" y="3142" width="206.700" height="49"/><text class="t" x="976" y="3165.700" textLength="63">CI / CD</text><text class="m p" x="871.500" y="3163.500">"</text><text class="m a" x="871.500" y="3189">"</text></g>
<g id="gh-actions"><rect class="b" x="1150.500" y="3039.800" width="176.500" height="45.900"/><text class="t" x="1235.600" y="3062.600" textLength="124.500">GitHub Actions</text><text class="m w" x="1314" y="3073">!</text><text class="m p" x="1321" y="3073">"</text></g>
<g id="az-pipelines"><rect class="b" x="1150.500" y="3093.700" width="176.500" height="45.900"/><text class="t" x="1236.500" y="3116.400" textLength="129.700">Azure Pipelines</text><text class="m w" x="1314" y="3127">!</text><text class="m p" x="1321" y="3127">"</text></g>
<g id="travis"><rect class="b" x="1150.500" y="3146.800" width="176.500" height="45.400"/><text class="t" x="1239.800" y="3169" textLength="74">Travis CI</text><text class="m w" x="1314" y="3180">!</text><text class="m g" x="1321" y="3180">"</text></g>
<g id="jenkins"><rect class="b" x="1150.500" y="3199.400" width="176.500" height="45.400"/><text class="t" x="1238" y="3221.700" textLength="64">Jenkins</text><text class="m w" x="1314" y="3232.500">!</text><text class="m g" x="1321" y="3232.500">"</text></g>
<g id="circle"><rect class="b" x="1150.500" y="3253" width="176.500" height="45"/><text class="t" x="1239" y="3275" textLength="72.600">Circle CI</text><text class="m w" x="1314" y="3286">!</text><text class="m g" x="1321" y="3286">"</text></g>
<g id="teamcity"><rect class="b" x="1150.500" y="3305.800" width="176.500" height="45.200"/><text class="t" x="1240.400" y="3327.700" textLength="79.600">TeamCity</text><text class="m w" x="1314" y="3339">!</text><text class="m g" x="1321" y="3339">"</text></g>
<g id="template"><rect class="y" x="59.400" y="3258" width="224.200" height="48.700"/><text class="t" x="172" y="3282" textLength="153">Template Engines</text><text class="m p" x="57" y="3278.500">"</text><text class="m a" x="57" y="3302.500">"</text></g>
<g id="good-libs"><rect class="y" x="373" y="3258" width="259" height="48.700"/><text class="t" x="503.500" y="3282" textLength="196">Good to Know Libraries</text></g>
<g id="razor"><rect class="b" x="59.400" y="3352" width="175.600" height="46"/><text class="t" x="147.500" y="3374.400" textLength="49.400">Razor</text><text class="m p" x="57" y="3385.500">"</text></g>
<g id="dotliquid"><rect class="b" x="59.400" y="3406" width="175.600" height="45.400"/><text class="t" x="147" y="3428.300" textLength="79.800">DotLiquid</text><text class="m g" x="57" y="3439">"</text></g>
<g id="scriban"><rect class="b" x="59.400" y="3459.900" width="175.600" height="45.400"/><text class="t" x="147" y="3482" textLength="63">Scriban</text><text class="m g" x="57" y="3493">"</text></g>
<g id="fluid"><rect class="b" x="59.400" y="3512" width="175.600" height="46"/><text class="t" x="147.500" y="3534.800" textLength="39.500">Fluid</text><text class="m g" x="57" y="3545.500">"</text></g>
<g id="mediatr"><rect class="b" x="402" y="3351" width="202" height="45.700"/><text class="t" x="503.300" y="3373.600" textLength="70.700">MediatR</text><text class="m p" x="398.500" y="3384.500">"</text></g>
<g id="fluentvalidation"><rect class="b" x="402" y="3405" width="202" height="45.600"/><text class="t" x="503.300" y="3427" textLength="134">FluentValidation</text><text class="m p" x="398.500" y="3438">"</text></g>
<g id="polly"><rect class="b" x="402" y="3458.600" width="202" height="45.900"/><text class="t" x="503.300" y="3481.300" textLength="38">Polly</text><text class="m p" x="398.500" y="3492">"</text></g>
<g id="nuke"><rect class="b" x="402" y="3511" width="202" height="45.700"/><text class="t" x="503.300" y="3534" textLength="43">Nuke</text><text class="m p" x="398.500" y="3544.500">"</text></g>
<g id="benchmark"><rect class="b" x="402" y="3566" width="202" height="45.800"/><text class="t" x="503.300" y="3588" textLength="136">Benchmark.NET</text><text class="m g" x="398.500" y="3599.500">"</text></g>
<g id="nodatime"><rect class="b" x="402" y="3620" width="202" height="45"/><text class="t" x="503.300" y="3642.500" textLength="86.300">NodaTime</text><text class="m g" x="398.500" y="3653.500">"</text></g>
<g id="genfu"><rect class="b" x="402" y="3673.700" width="202" height="45"/><text class="t" x="503.300" y="3696" textLength="56">GenFu</text><text class="m g" x="398.500" y="3707">"</text></g>
<g id="swashbuckle"><rect class="b" x="402" y="3728.400" width="202" height="45.600"/><text class="t" x="503.300" y="3750.700" textLength="110">SwashBuckle</text><text class="m g" x="398.500" y="3762">"</text></g>
<g id="backend"><rect class="b" x="859.400" y="3583" width="234" height="42.700"/><text class="t" style="font-size:19px" x="976.600" y="3603.400" textLength="150.500">Backend Roadmap</text><text class="m p" x="855.700" y="3615.500">"</text></g>
</g>
</svg>
